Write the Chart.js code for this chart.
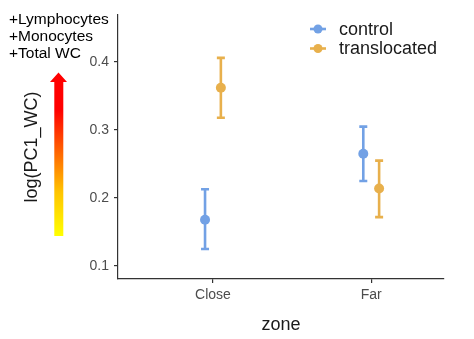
<!DOCTYPE html>
<html>
<head>
<meta charset="utf-8">
<script src="https://cdn.jsdelivr.net/npm/chart.js@4/dist/chart.umd.min.js"></script>
<style>
	body { margin: 0; background: #fff; }
	#wrap { width: 474px; height: 339px; }
</style>
</head>
<body>
<div id="wrap"><canvas id="chart" width="474" height="339"></canvas></div>
<script>
// data
var zones = ['Close', 'Far'];
var groups = ['control', 'translocated'];
var groupColors = ['#72a1e5', '#e8b04c'];
var controlMean = [0.168, 0.265];
var controlLow = [0.125, 0.225];
var controlHigh = [0.213, 0.305];
var transMean = [0.362, 0.214];
var transLow = [0.318, 0.172];
var transHigh = [0.406, 0.255];
var yTicks = [0.1, 0.2, 0.3, 0.4];
var annotLines = ['+Lymphocytes', '+Monocytes', '+Total WC'];

var dodge = 0.05;

function makePoints(mean, low, high, shift) {
	var pts = [];
	for (var i = 0; i < zones.length; i++) {
		pts.push({ x: i + 1 + shift, y: mean[i], lo: low[i], hi: high[i] });
	}
	return pts;
}

Chart.defaults.font.family = '"Liberation Sans", Arial, sans-serif';

// error bars go under the points
var errorBars = {
	id: 'errorBars',
	beforeDatasetsDraw: function (chart) {
		var ctx = chart.ctx;
		var yScale = chart.scales.y;
		chart.data.datasets.forEach(function (ds, di) {
			var meta = chart.getDatasetMeta(di);
			ctx.save();
			ctx.strokeStyle = ds.borderColor;
			ctx.lineWidth = 2.6;
			meta.data.forEach(function (el, i) {
				var p = ds.data[i];
				var top = yScale.getPixelForValue(p.hi);
				var bot = yScale.getPixelForValue(p.lo);
				ctx.beginPath();
				ctx.moveTo(el.x, top);
				ctx.lineTo(el.x, bot);
				ctx.moveTo(el.x - 4, top);
				ctx.lineTo(el.x + 4, top);
				ctx.moveTo(el.x - 4, bot);
				ctx.lineTo(el.x + 4, bot);
				ctx.stroke();
			});
			ctx.restore();
		});
	}
};

// legend, side notes and the colour arrow
var extras = {
	id: 'extras',
	afterDraw: function (chart) {
		var ctx = chart.ctx;
		ctx.save();

		// legend top right
		chart.data.datasets.forEach(function (ds, i) {
			var y = 29 + i * 19.5;
			ctx.strokeStyle = ds.borderColor;
			ctx.fillStyle = ds.backgroundColor;
			ctx.lineWidth = 2.6;
			ctx.beginPath();
			ctx.moveTo(310, y);
			ctx.lineTo(326, y);
			ctx.stroke();
			ctx.beginPath();
			ctx.arc(318, y, 4.5, 0, Math.PI * 2);
			ctx.fill();
			ctx.fillStyle = '#1a1a1a';
			ctx.font = '18px "Liberation Sans", Arial, sans-serif';
			ctx.textBaseline = 'middle';
			ctx.textAlign = 'left';
			ctx.fillText(ds.label, 339, y + 1);
		});

		// notes top left
		ctx.fillStyle = '#000';
		ctx.font = '15.5px "Liberation Sans", Arial, sans-serif';
		ctx.textBaseline = 'alphabetic';
		for (var i = 0; i < annotLines.length; i++) {
			ctx.fillText(annotLines[i], 9, 24 + i * 17);
		}

		// gradient arrow
		var grad = ctx.createLinearGradient(0, 236, 0, 110);
		grad.addColorStop(0, '#ffff00');
		grad.addColorStop(0.35, '#ffc400');
		grad.addColorStop(0.7, '#ff5a00');
		grad.addColorStop(1, '#ff0000');
		ctx.fillStyle = grad;
		ctx.beginPath();
		ctx.moveTo(54.3, 236);
		ctx.lineTo(54.3, 82);
		ctx.lineTo(50, 82);
		ctx.lineTo(58.5, 72.5);
		ctx.lineTo(67, 82);
		ctx.lineTo(63.3, 82);
		ctx.lineTo(63.3, 236);
		ctx.closePath();
		ctx.fill();

		ctx.restore();
	}
};

var datasets = [
	{
		label: groups[0],
		data: makePoints(controlMean, controlLow, controlHigh, -dodge),
		backgroundColor: groupColors[0],
		borderColor: groupColors[0],
		pointRadius: 5,
		pointBorderWidth: 0
	},
	{
		label: groups[1],
		data: makePoints(transMean, transLow, transHigh, dodge),
		backgroundColor: groupColors[1],
		borderColor: groupColors[1],
		pointRadius: 5,
		pointBorderWidth: 0
	}
];

var axisColor = '#333333';

new Chart(document.getElementById('chart').getContext('2d'), {
	type: 'scatter',
	data: { datasets: datasets },
	plugins: [errorBars, extras],
	options: {
		responsive: false,
		animation: false,
		layout: { padding: { top: 15, right: 30, left: 0, bottom: 0 } },
		plugins: {
			legend: { display: false },
			tooltip: { enabled: false }
		},
		scales: {
			x: {
				type: 'linear',
				min: 0.4,
				max: 2.46,
				afterBuildTicks: function (s) {
					s.ticks = zones.map(function (z, i) { return { value: i + 1 }; });
				},
				afterFit: function (s) { s.height = 60; },
				ticks: {
					color: '#4d4d4d',
					font: { size: 14 },
					padding: 4,
					callback: function (v) { return zones[v - 1]; }
				},
				grid: { drawOnChartArea: false, drawTicks: true, tickLength: 4, color: axisColor, lineWidth: 1.2 },
				border: { display: true, color: axisColor, width: 1.2 },
				title: {
					display: true,
					text: 'zone',
					color: '#1a1a1a',
					font: { size: 18 },
					padding: { top: 0, bottom: 3 }
				}
			},
			y: {
				min: 0.081,
				max: 0.469,
				afterBuildTicks: function (s) {
					s.ticks = yTicks.map(function (v) { return { value: v }; });
				},
				afterFit: function (s) { s.width = 118; },
				ticks: {
					color: '#4d4d4d',
					font: { size: 14 },
					padding: 5,
					callback: function (v) { return v.toFixed(1); }
				},
				grid: { drawOnChartArea: false, drawTicks: true, tickLength: 4, color: axisColor, lineWidth: 1.2 },
				border: { display: true, color: axisColor, width: 1.2 },
				title: {
					display: true,
					text: 'log(PC1_WC)',
					color: '#1a1a1a',
					font: { size: 18 },
					padding: { top: 21, bottom: 0 }
				}
			}
		}
	}
});
</script>
</body>
</html>
